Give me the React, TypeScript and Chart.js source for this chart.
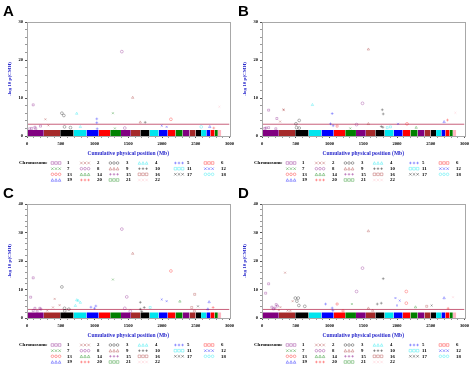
import React, { useEffect, useRef } from 'react';
import { Chart, registerables } from 'chart.js';
Chart.register(...registerables);

// ---------- data ----------
const chromosomes = ['1','2','3','4','5','6','7','8','9','10','11','12','13','14','15','16','17','18','19','20','21','22'];
const chrLengths = [249,243,198,191,181,171,159,146,141,136,135,134,115,107,102,90,81,78,59,63,48,51];
const chrColors = ['#800080','#a52a2a','#000000','#00e5ee','#0000ff','#ff0000','#008000',
  '#800080','#a52a2a','#000000','#00e5ee','#0000ff','#ff0000','#008000',
  '#800080','#a52a2a','#000000','#00e5ee','#0000ff','#ff0000','#008000','#ffb6c1'];
const symbolCycle = ['rect','crossRot','circle','triangle','cross'];

const panelLetters = ['A','B','C','D'];
const panelYMax = [30,30,40,40];
const thresholds = [3.1,3.1,3.0,3.0];
const bandTops = [1.6,1.6,1.9,1.9];
const xTickLabels = [0,500,1000,1500,2000,2500,3000];

const panelA: [number, number][] = [[92,8.2],[117,2.3],[200,2.6],[273,4.4],[317,2.8],[517,6.0],[546,5.4],[556,2.4],[644,2.2],[737,5.9],[790,2.4],[1034,4.5],[1034,3.5],[1273,6.0],[1302,2.0],[1405,22.2],[1449,2.1],[1566,10.1],[1678,3.6],[1751,3.6],[1996,2.7],[2069,2.4],[2132,4.4],[2581,2.4],[2708,2.4],[2767,2.1],[2850,7.7],[40,1.9],[70,2.0],[130,1.9],[1040,1.9]];
const panelB: [number, number][] = [[98,6.8],[98,2.2],[220,4.6],[205,1.9],[268,3.8],[317,7.0],[322,6.8],[503,3.2],[512,2.2],[551,4.1],[551,2.1],[747,8.2],[1015,3.2],[1040,5.9],[1054,2.7],[1113,2.6],[1308,2.0],[1401,3.0],[1489,8.6],[1576,22.8],[1576,3.2],[1782,6.9],[1796,5.8],[1767,2.5],[1791,2.3],[1855,2.2],[1903,2.4],[2016,3.2],[2148,3.2],[2284,2.2],[2698,3.7],[2748,4.2],[2865,6.1],[40,2.0],[60,2.1]];
const panelC: [number, number][] = [[54,7.3],[92,14.1],[117,3.4],[92,2.6],[190,3.4],[205,3.1],[385,3.7],[410,6.7],[483,4.5],[517,10.9],[556,3.4],[620,3.1],[737,6.3],[757,6.1],[790,5.4],[717,4.3],[947,3.8],[1020,4.2],[1000,3.4],[1273,13.5],[1405,31.2],[1478,7.4],[1449,3.4],[1566,22.6],[1679,5.5],[1679,3.1],[1737,3.7],[1825,3.7],[1996,6.5],[2069,5.9],[2132,16.5],[2265,5.8],[2484,8.3],[2440,3.7],[2533,4.1],[2698,5.6],[2679,3.1],[2757,3.7],[150,2.4],[300,2.6],[560,2.5],[1530,2.4],[1700,2.3],[2480,2.4]];
const panelD: [number, number][] = [[54,8.7],[98,12.0],[146,3.8],[210,4.7],[229,4.2],[273,3.8],[342,15.9],[454,5.9],[493,7.0],[537,7.0],[517,5.9],[546,4.4],[634,4.1],[942,4.9],[1040,3.5],[1113,4.9],[1332,4.9],[1401,9.3],[1489,17.5],[1576,30.5],[1576,3.4],[1708,4.9],[1767,5.2],[1796,13.8],[1977,7.0],[2040,6.1],[2000,4.4],[2138,9.3],[2138,5.2],[2274,3.8],[2440,4.1],[2513,4.4],[2698,7.0],[2830,7.3],[2757,3.4],[170,3.2],[190,3.5],[250,2.8],[380,2.6],[420,2.5],[1050,2.6],[1200,2.5],[1640,2.6]];
const panelPoints = [panelA, panelB, panelC, panelD];

// ---------- helpers ----------
const chrStarts: number[] = [];
chrLengths.reduce((acc, l) => { chrStarts.push(acc); return acc + l; }, 0);
const chrIndexOf = (x: number) => {
  for (let i = chrStarts.length - 1; i >= 0; i--) if (x >= chrStarts[i]) return i;
  return 0;
};

function drawSym(ctx: CanvasRenderingContext2D, kind: string, x: number, y: number, r: number) {
  ctx.beginPath();
  if (kind === 'rect') ctx.rect(x - r, y - r, 2 * r, 2 * r);
  else if (kind === 'crossRot') { ctx.moveTo(x - r, y - r); ctx.lineTo(x + r, y + r); ctx.moveTo(x + r, y - r); ctx.lineTo(x - r, y + r); }
  else if (kind === 'circle') ctx.arc(x, y, r, 0, Math.PI * 2);
  else if (kind === 'triangle') { ctx.moveTo(x, y - r); ctx.lineTo(x + r, y + r); ctx.lineTo(x - r, y + r); ctx.closePath(); }
  else { ctx.moveTo(x - r, y); ctx.lineTo(x + r, y); ctx.moveTo(x, y - r); ctx.lineTo(x, y + r); }
  ctx.stroke();
}

const legendSymX = [51, 80, 109, 138, 174, 204];
const legendLabX = [67, 97, 126, 155, 187, 221];
const legendRowY = [163, 168.7, 174.3, 180];

const decorPlugin = {
  id: 'decor',
  afterDraw(chart: any, _args: any, opts: any) {
    const { ctx, chartArea: a } = chart;
    ctx.save();
    ctx.strokeStyle = '#a8a8a8';
    ctx.lineWidth = 1;
    ctx.strokeRect(Math.round(a.left) + 0.5, Math.round(a.top) + 0.5, Math.round(a.right - a.left), Math.round(a.bottom - a.top));
    ctx.fillStyle = '#000';
    ctx.font = 'bold 15px Arial, "Liberation Sans", sans-serif';
    ctx.textBaseline = 'alphabetic';
    ctx.textAlign = 'left';
    ctx.fillText(opts.letter, 3, 16);
    // legend
    ctx.font = 'bold 5px "Liberation Serif", serif';
    ctx.textBaseline = 'middle';
    ctx.fillText('Chromosome', 19, legendRowY[0]);
    chromosomes.forEach((name, i) => {
      const row = Math.floor(i / 6), col = i % 6;
      const y = legendRowY[row];
      ctx.strokeStyle = chrColors[i];
      ctx.globalAlpha = 0.5;
      ctx.lineWidth = 0.7;
      for (let k = 0; k < 3; k++) drawSym(ctx, symbolCycle[i % 5], legendSymX[col] + 1.4 + k * 3.6, y, 1.3);
      ctx.globalAlpha = 1;
      ctx.fillStyle = '#000';
      ctx.font = 'bold 4.8px "Liberation Serif", serif';
      ctx.fillText(name, legendLabX[col], y);
    });
    ctx.restore();
  },
};

function Panel({ idx, left, top }: { idx: number; left: number; top: number }) {
  const ref = useRef<HTMLCanvasElement>(null);
  useEffect(() => {
    if (!ref.current) return;
    const pts = panelPoints[idx];
    const datasets: any[] = [];
    chromosomes.forEach((_, c) => {
      const data = pts.filter(p => chrIndexOf(p[0]) === c).map(p => ({ x: p[0], y: p[1] }));
      datasets.push({
        type: 'scatter', data, order: 1,
        pointStyle: symbolCycle[c % 5], pointRadius: 1.4, pointBorderWidth: 0.6,
        borderColor: chrColors[c] + '80', backgroundColor: 'rgba(0,0,0,0)',
      });
    });
    datasets.push({
      type: 'line', order: 2, data: [{ x: 0, y: thresholds[idx] }, { x: 3000, y: thresholds[idx] }],
      borderColor: '#c8607c', borderWidth: 1, pointRadius: 0, fill: false,
    });
    chromosomes.forEach((_, c) => {
      datasets.push({
        type: 'line', order: 3,
        data: [{ x: chrStarts[c], y: bandTops[idx] }, { x: chrStarts[c] + chrLengths[c], y: bandTops[idx] }],
        borderWidth: 0, borderColor: chrColors[c], backgroundColor: chrColors[c], pointRadius: 0, fill: 'origin',
      });
    });
    const serif = '"Liberation Serif", serif';
    const chart = new Chart(ref.current, {
      type: 'scatter',
      data: { datasets },
      plugins: [decorPlugin],
      options: {
        animation: false, responsive: false, devicePixelRatio: 1, events: [],
        layout: { padding: { top: 22, right: 5, bottom: 25, left: 0 } },
        plugins: { legend: { display: false }, tooltip: { enabled: false }, decor: { letter: panelLetters[idx] } } as any,
        scales: {
          x: {
            type: 'linear', min: 0, max: 3000,
            afterFit: (s: any) => { s.height = 22; },
            afterBuildTicks: (s: any) => {
              const t: any[] = [];
              for (let v = 0; v <= 3000; v += 100) t.push({ value: v });
              s.ticks = t;
            },
            ticks: {
              autoSkip: false, maxRotation: 0, padding: 3, color: '#000',
              callback: (v: any) => (xTickLabels.includes(v) ? String(v) : ''),
              font: { family: serif, size: 4.5, weight: 'bold' },
            },
            grid: { drawOnChartArea: false, tickLength: 2, color: (c: any) => (c.tick && c.tick.value % 500 === 0 ? '#555' : '#999') },
            border: { color: '#a8a8a8' },
            title: { display: true, text: 'Cumulative physical position (Mb)', color: '#2a2acc', font: { family: serif, size: 5.5, weight: 'bold' }, padding: { top: 2, bottom: 1 } },
          },
          y: {
            min: 0, max: panelYMax[idx],
            afterFit: (s: any) => { s.width = 27; },
            afterBuildTicks: (s: any) => {
              const t: any[] = [];
              for (let v = 0; v <= panelYMax[idx]; v += 2) t.push({ value: v });
              s.ticks = t;
            },
            ticks: {
              autoSkip: false, padding: 2, color: '#000',
              callback: (v: any) => (v % 10 === 0 ? String(v) : ''),
              font: { family: serif, size: 4.5, weight: 'bold' },
            },
            grid: { drawOnChartArea: false, tickLength: 2, color: (c: any) => (c.tick && c.tick.value % 10 === 0 ? '#555' : '#999') },
            border: { color: '#a8a8a8' },
            title: { display: true, text: '-log 10 p(CMH)', color: '#2a2acc', font: { family: serif, size: 5, weight: 'bold' }, padding: { top: 7, bottom: 0 } },
          },
        },
      } as any,
    });
    return () => chart.destroy();
  }, [idx]);
  return (
    <canvas ref={ref} width={237} height={183}
      style={{ position: 'absolute', left, top, width: 237, height: 183 }} />
  );
}

export default function App() {
  return (
    <div style={{ position: 'fixed', left: 0, top: 0, width: 474, height: 366, background: '#fff', overflow: 'hidden' }}>
      <Panel idx={0} left={0} top={0} />
      <Panel idx={1} left={235} top={0} />
      <Panel idx={2} left={0} top={182} />
      <Panel idx={3} left={235} top={182} />
    </div>
  );
}
